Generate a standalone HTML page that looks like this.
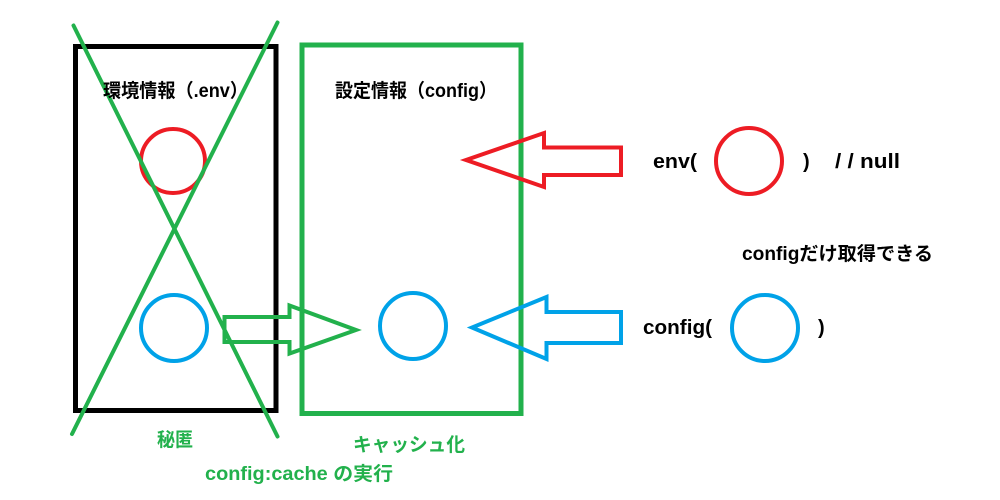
<!DOCTYPE html>
<html>
<head>
<meta charset="utf-8">
<style>
html,body{margin:0;padding:0;background:#fff;}
svg{display:block;}
text{font-family:"Liberation Sans","Noto Sans CJK JP",sans-serif;font-weight:bold;font-size:19px;}
.lat{font-size:20px;}
</style>
</head>
<body>
<svg width="1000" height="500" viewBox="0 0 1000 500" xmlns="http://www.w3.org/2000/svg">
<rect x="0" y="0" width="1000" height="500" fill="#fff"/>
<!-- black rect -->
<rect x="75.5" y="46.5" width="200.5" height="364" fill="none" stroke="#000" stroke-width="5"/>
<!-- green rect -->
<rect x="302" y="45" width="219" height="368.5" fill="none" stroke="#22b14c" stroke-width="5"/>

<!-- red circle left -->
<circle cx="173" cy="161" r="32" fill="none" stroke="#ed1c24" stroke-width="4"/>
<!-- blue circle left -->
<circle cx="174" cy="328" r="33" fill="none" stroke="#00a2e8" stroke-width="4"/>

<!-- green X -->
<line x1="73.5" y1="25.5" x2="277.5" y2="436.5" stroke="#22b14c" stroke-width="4" stroke-linecap="round"/>
<line x1="277.5" y1="22.5" x2="72" y2="434" stroke="#22b14c" stroke-width="4" stroke-linecap="round"/>

<!-- green arrow -->
<polygon points="224.5,317 289.5,317 289.5,305.5 356,330 289.5,353.5 289.5,342 224.5,342" fill="none" stroke="#22b14c" stroke-width="4" stroke-linejoin="miter"/>

<!-- blue circle middle -->
<circle cx="413" cy="326" r="33" fill="none" stroke="#00a2e8" stroke-width="4"/>

<!-- red arrow -->
<polygon points="621,147.5 544,147.5 544,133 466,160 544,187 544,175 621,175" fill="none" stroke="#ed1c24" stroke-width="4" stroke-linejoin="miter"/>
<!-- blue arrow -->
<polygon points="621,312 546.5,312 546.5,297 472,327.5 546.5,359 546.5,343 621,343" fill="none" stroke="#00a2e8" stroke-width="4" stroke-linejoin="miter"/>

<!-- right circles -->
<circle cx="749" cy="161" r="33" fill="none" stroke="#ed1c24" stroke-width="4"/>
<circle cx="765" cy="328" r="33" fill="none" stroke="#00a2e8" stroke-width="4"/>

<!-- text -->
<text x="103" y="97" textLength="145" lengthAdjust="spacingAndGlyphs" fill="#000">環境情報（.env）</text>
<text x="335" y="97" textLength="162" lengthAdjust="spacingAndGlyphs" fill="#000">設定情報（config）</text>

<text class="lat" x="653" y="168" textLength="44" lengthAdjust="spacingAndGlyphs" fill="#000">env(</text>
<text class="lat" x="803" y="168" fill="#000">)</text>
<text class="lat" x="835" y="168" textLength="65" lengthAdjust="spacingAndGlyphs" fill="#000">/ / null</text>

<text x="742" y="260" textLength="191" lengthAdjust="spacingAndGlyphs" fill="#000">configだけ取得できる</text>

<text class="lat" x="643" y="334" textLength="69" lengthAdjust="spacingAndGlyphs" fill="#000">config(</text>
<text class="lat" x="818" y="334" fill="#000">)</text>

<text x="157" y="446" textLength="36" lengthAdjust="spacingAndGlyphs" fill="#22b14c">秘匿</text>
<text x="353" y="451" textLength="112" lengthAdjust="spacingAndGlyphs" fill="#22b14c">キャッシュ化</text>
<text x="205" y="480" textLength="188" lengthAdjust="spacingAndGlyphs" fill="#22b14c">config:cache の実行</text>
</svg>
</body>
</html>
